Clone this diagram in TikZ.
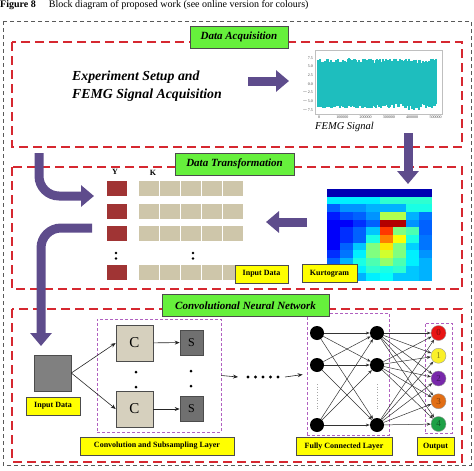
\documentclass[tikz,border=0pt]{standalone}
\usepackage{amsmath}
\usepackage{xcolor}
\usepackage{fontspec}
\setmainfont{Liberation Serif}
\usetikzlibrary{arrows.meta}
\definecolor{dashred}{RGB}{214,40,48}
\definecolor{labgreen}{RGB}{102,240,60}
\definecolor{labyellow}{RGB}{255,255,0}
\definecolor{arrowpurple}{RGB}{94,76,140}
\definecolor{boxviolet}{RGB}{176,96,192}
\definecolor{sigteal}{RGB}{30,190,190}
\definecolor{ycell}{RGB}{160,52,52}
\definecolor{kcell}{RGB}{206,198,170}
\definecolor{cbeige}{RGB}{214,208,190}
\definecolor{sgray}{RGB}{112,112,112}
\definecolor{ingray}{RGB}{128,128,128}
\definecolor{outred}{RGB}{232,20,20}
\definecolor{outyellow}{RGB}{250,240,40}
\definecolor{outpurple}{RGB}{120,40,170}
\definecolor{outorange}{RGB}{226,110,20}
\definecolor{outgreen}{RGB}{30,160,70}

\begin{document}
\begin{tikzpicture}[x=1pt,y=-1pt]
\tikzstyle{every node}+=[inner sep=0pt]
\tikzstyle{redbox}=[draw=dashred, line width=1.6pt, dash pattern=on 9pt off 5pt]
\tikzstyle{greybox}=[draw=black!65, line width=0.9pt, dash pattern=on 4pt off 3pt]
\tikzstyle{vbox}=[draw=boxviolet, line width=0.8pt, dash pattern=on 3pt off 2pt]
\tikzstyle{glabel}=[draw=black!70, fill=labgreen, line width=0.8pt, minimum height=22pt,
  font=\fontsize{11}{11}\selectfont\bfseries\itshape]
\tikzstyle{ylabel}=[draw=black!70, fill=labyellow, line width=0.8pt, minimum height=18pt,
  font=\fontsize{8}{8}\selectfont\bfseries]
\tikzstyle{bigarrow}=[draw=arrowpurple, line width=9pt, -{Triangle[length=13pt,width=21pt]}]
\tikzstyle{thinarrow}=[draw=black!85, line width=0.6pt, -{Stealth[length=5pt,width=4pt]}]
\tikzstyle{fcline}=[draw=black!80, line width=0.5pt, -{Stealth[length=4pt,width=3pt]}]
\tikzstyle{neuron}=[circle, fill=black, minimum size=14pt]
\tikzstyle{outnode}=[circle, draw=black!40, line width=0.4pt, minimum size=15pt,
  font=\fontsize{9}{9}\selectfont]
\tikzstyle{ticklab}=[font=\fontsize{4}{4}\selectfont, text=black!75]
\useasboundingbox (0,0) rectangle (474,471);

% caption
\node [anchor=west, font=\fontsize{10}{10}\selectfont] (caption) at (0,5)
  {\textbf{Figure 8}\hspace{1.3em}Block diagram of proposed work (see online version for colours)};

% frames
\draw [greybox] (3,21) rectangle (471,465);
\draw [redbox] (12,42) rectangle (462,147);
\draw [redbox] (12,167) rectangle (462,289);
\draw [redbox] (12,309) rectangle (462,462);

% data acquisition
\node [anchor=west, align=left, font=\fontsize{13.8}{18}\selectfont\bfseries\itshape] (setup) at (72,86)
  {Experiment Setup and\\FEMG Signal Acquisition};
\coordinate (setupR) at (248,81);
\coordinate (plotL) at (289,81);
\draw [bigarrow] (setupR) -- (plotL);
\draw [black!25, line width=0.5pt] (315,50) rectangle (442,114);
\pgfmathsetseed{11}
\foreach \i in {0,...,118} {
  \pgfmathsetmacro\ta{61+2.5*rand-2.5*(rnd>0.93)}
  \pgfmathsetmacro\tb{106+2.5*rand+2*(rnd>0.93)}
  \draw [sigteal, line width=1.1pt] (318+\i,\ta) -- (318+\i,\tb);
}
\foreach \t [count=\k from 0] in {7.5,5.0,2.5,0.0,$-$2.5,$-$5.0,$-$7.5}
  \node [ticklab, anchor=east] (yt\k) at (313,58+8.67*\k) {\t};
\foreach \t [count=\k from 0] in {0,100000,200000,300000,400000,500000}
  \node [ticklab] (xt\k) at (319+23.3*\k,117) {\t};
\node [anchor=west, font=\fontsize{10.5}{10.5}\selectfont\itshape] (femg) at (315,127) {FEMG Signal};
\coordinate (sigB) at (408,133);
\coordinate (kurtT) at (408,184);
\draw [bigarrow] (sigB) -- (kurtT);

% data transformation
\node [font=\fontsize{8}{8}\selectfont\bfseries] (ylab) at (115,172) {Y};
\node [font=\fontsize{8}{8}\selectfont\bfseries] (klab) at (153,173) {K};
\foreach \y [count=\r] in {181,204,226,265} {
  \fill [ycell] (107,\y) rectangle ++(20,15);
  \foreach \c in {0,...,4}
    \fill [kcell] (139+21*\c,\y) rectangle ++(20,15);
}
\foreach \x in {116,193} {
  \fill (\x,253) circle (1.3);
  \fill (\x,258.5) circle (1.3);
}
% kurtogram
\foreach \row [count=\r from 0] in {
  {0.05,0.05,0.05,0.05,0.05,0.05,0.05,0.05},
  {0.36,0.36,0.36,0.36,0.42,0.42,0.42,0.42},
  {0.22,0.27,0.27,0.3,0.3,0.3,0.4,0.4},
  {0.15,0.2,0.22,0.27,0.55,0.55,0.3,0.24},
  {0.12,0.12,0.17,0.22,0.95,0.95,0.27,0.22},
  {0.12,0.17,0.22,0.32,0.82,0.5,0.45,0.22},
  {0.12,0.17,0.22,0.4,0.75,0.62,0.4,0.24},
  {0.12,0.22,0.32,0.5,0.65,0.5,0.33,0.24},
  {0.17,0.24,0.36,0.5,0.58,0.5,0.36,0.27},
  {0.22,0.3,0.4,0.45,0.52,0.45,0.36,0.3},
  {0.22,0.3,0.36,0.42,0.4,0.42,0.32,0.3},
  {0.22,0.3,0.3,0.36,0.38,0.32,0.32,0.3}} {
  \foreach \v [count=\c from 0] in \row {
    \pgfmathsetmacro\kr{max(0,min(1,1.5-abs(4*\v-3)))}
    \pgfmathsetmacro\kg{max(0,min(1,1.5-abs(4*\v-2)))}
    \pgfmathsetmacro\kb{max(0,min(1,1.5-abs(4*\v-1)))}
    \definecolor{kc}{rgb}{\kr,\kg,\kb}
    \fill [kc] (327+13.125*\c,189+7.667*\r) rectangle ++(13.125,7.667);
  }
}
\coordinate (kurtL) at (307,222);
\coordinate (dataR) at (266,222);
\draw [bigarrow] (kurtL) -- (dataR);
\node [ylabel, minimum width=53pt] (tinput) at (261.5,274) {Input Data};
\node [ylabel, minimum width=55pt] (kurt) at (329.5,273.5) {Kurtogram};
\draw [bigarrow, rounded corners=20pt] (39,153) -- (39,196) -- (94,196);
\draw [bigarrow, rounded corners=20pt] (92,228) -- (41,228) -- (41,346);

% convolutional neural network
\node [draw=black!70, fill=ingray, line width=0.6pt, minimum width=37pt, minimum height=36pt] (inp) at (52.5,373) {};
\node [ylabel, minimum width=54pt] (cinput) at (53,406) {Input Data};
\node [vbox, minimum width=124pt, minimum height=113pt] (convbox) at (159,375.5) {};
\node [draw=black!70, fill=cbeige, line width=0.6pt, minimum width=37pt, minimum height=36pt,
  font=\fontsize{15}{15}\selectfont] (c1) at (134.5,343) {C};
\node [draw=black!70, fill=cbeige, line width=0.6pt, minimum width=37pt, minimum height=36pt,
  font=\fontsize{15}{15}\selectfont] (c2) at (134.5,409) {C};
\node [draw=black!70, fill=sgray, line width=0.6pt, minimum width=23pt, minimum height=25pt,
  font=\fontsize{12}{12}\selectfont] (s1) at (191.5,342.5) {S};
\node [draw=black!70, fill=sgray, line width=0.6pt, minimum width=23pt, minimum height=25pt,
  font=\fontsize{12}{12}\selectfont] (s2) at (191.5,409) {S};
\draw [thinarrow] (inp.east) -- (c1.west);
\draw [thinarrow] (inp.east) -- (c2.west);
\draw [thinarrow] (c1) -- (s1);
\draw [thinarrow] (c2) -- (s2);
\fill (136,372) circle (1.5);
\fill (136,387) circle (1.5);
\fill (191,371) circle (1.5);
\fill (191,386) circle (1.5);
\node [ylabel, minimum width=154pt] (convlab) at (157,446) {Convolution and Subsampling Layer};
\coordinate (dotsL) at (238,377);
\coordinate (dotsR) at (285,377);
\draw [thinarrow] (convbox.east) -- (dotsL);
\foreach \k in {0,...,4}
  \fill (248+7.5*\k,377) circle (1.6);
\node [vbox, minimum width=82pt, minimum height=122pt] (fcbox) at (348,374) {};
\draw [thinarrow, shorten >=4pt] (dotsR) -- (fcbox.west);
\foreach \y [count=\k] in {333,365,425} {
  \node [neuron] (fa\k) at (317,\y) {};
  \node [neuron] (fb\k) at (377,\y) {};
}
\draw [black!35, line width=0.7pt, dotted] (317,384) -- (317,410);
\draw [black!35, line width=0.7pt, dotted] (377,384) -- (377,410);
\node [vbox, minimum width=27pt, minimum height=110pt] (outbox) at (438.5,378) {};
\foreach \col/\dig [count=\k from 0] in {outred/0,outyellow/1,outpurple/2,outorange/3,outgreen/4}
  \node [outnode, fill=\col, text=\col!55!black] (out\k) at (438.5,333+22.75*\k) {\dig};
\foreach \a in {1,2,3}
  \foreach \b in {1,2,3}
    \draw [fcline] (fa\a) -- (fb\b);
\foreach \a in {1,2,3}
  \foreach \b in {0,...,4}
    \draw [fcline] (fb\a) -- (out\b);
\node [ylabel, minimum width=96pt] (fclab) at (344,446.5) {Fully Connected Layer};
\node [ylabel, minimum width=37pt] (outlab) at (435.5,446.5) {Output};

% section titles
\node [glabel, minimum width=98pt] (acq) at (239,37) {Data Acquisition};
\node [glabel, minimum width=119pt] (trans) at (234.5,164) {Data Transformation};
\node [glabel, minimum width=167pt] (cnn) at (245.5,305.5) {Convolutional Neural Network};
\end{tikzpicture}
\end{document}
